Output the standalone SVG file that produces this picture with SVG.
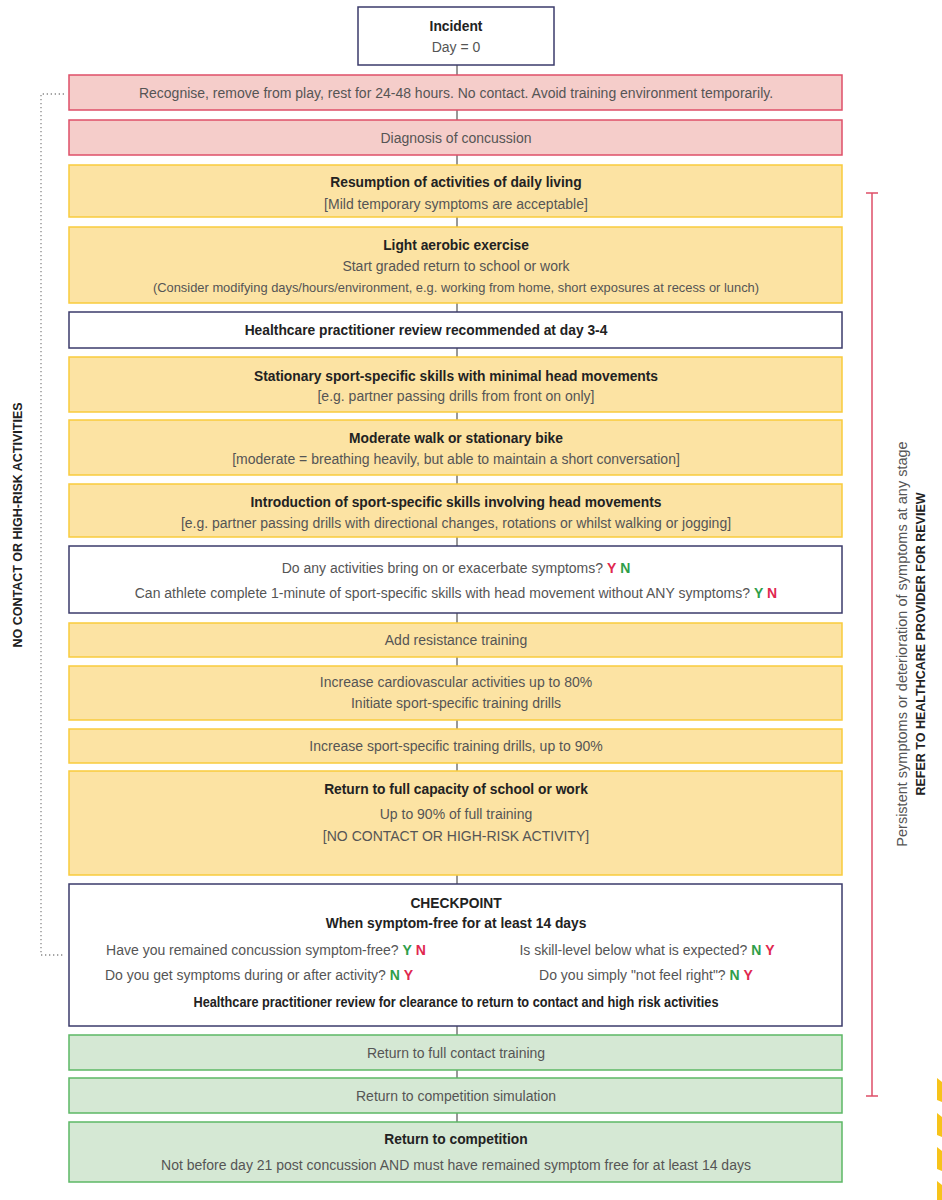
<svg xmlns="http://www.w3.org/2000/svg" width="942" height="1200" viewBox="0 0 942 1200">
<style>
text{font-family:"Liberation Sans",Arial,sans-serif;font-size:14px;fill:#555;text-anchor:middle}
.b{font-weight:bold;fill:#222;font-size:13.8px}
.sm{font-size:12.9px}
.red{fill:#f5cdca;stroke:#de4f68;stroke-width:1.5}
.yel{fill:#fce3a3;stroke:#f9cb3c;stroke-width:1.5}
.wht{fill:#fff;stroke:#3b3b6b;stroke-width:1.5}
.grn{fill:#d5e8d4;stroke:#5cb865;stroke-width:1.5}
.g{fill:#2f9e4a;font-weight:bold}
.r{fill:#e0284f;font-weight:bold}
.con line{stroke:#333;stroke-width:1}
</style>
<rect width="942" height="1200" fill="#fff"/>
<g class="con">
<line x1="457" y1="65" x2="457" y2="75"/>
<line x1="457" y1="110" x2="457" y2="120"/>
<line x1="457" y1="155" x2="457" y2="165"/>
<line x1="457" y1="217" x2="457" y2="227"/>
<line x1="457" y1="303" x2="457" y2="312"/>
<line x1="457" y1="348" x2="457" y2="357"/>
<line x1="457" y1="412" x2="457" y2="420"/>
<line x1="457" y1="475" x2="457" y2="484"/>
<line x1="457" y1="537" x2="457" y2="546"/>
<line x1="457" y1="613" x2="457" y2="623"/>
<line x1="457" y1="657" x2="457" y2="666"/>
<line x1="457" y1="720" x2="457" y2="729"/>
<line x1="457" y1="763" x2="457" y2="771"/>
<line x1="457" y1="875" x2="457" y2="884"/>
<line x1="457" y1="1026" x2="457" y2="1035"/>
<line x1="457" y1="1070" x2="457" y2="1078"/>
<line x1="457" y1="1113" x2="457" y2="1122"/>
</g>
<g id="bracket-left">
<polyline points="64,94 41,94 41,955 64,955" fill="none" stroke="#888" stroke-width="1.3" stroke-dasharray="1.3,2.7"/>
<text class="b" transform="translate(22,525) rotate(-90)" style="font-size:12.5px">NO CONTACT OR HIGH-RISK ACTIVITIES</text>
</g>
<g id="bracket-right">
<path d="M866,193H878M872,193V1096M866,1096H878" fill="none" stroke="#de4f68" stroke-width="1.5"/>
<text transform="translate(907,644) rotate(-90)" style="font-size:14.5px">Persistent symptoms or deterioration of  symptoms at any stage</text>
<text class="b" transform="translate(925,644) rotate(-90)" style="font-size:12.5px">REFER TO HEALTHCARE PROVIDER FOR REVIEW</text>
</g>
<g id="stripes" fill="#f7c31a">
<polygon points="937,1078 942,1082 942,1102 937,1100"/>
<polygon points="937,1113 942,1117 942,1137 937,1135"/>
<polygon points="937,1147 942,1151 942,1171 937,1169"/>
<polygon points="937,1181 942,1185 942,1200 937,1200"/>
</g>
<g id="n-incident"><rect class="wht" x="358" y="7" width="196" height="58"/><text class="b" x="456" y="31">Incident</text><text x="456" y="52">Day = 0</text></g>
<g id="n-recognise"><rect class="red" x="69" y="75" width="773" height="35"/><text x="456" y="98">Recognise, remove from play, rest for 24-48 hours. No contact. Avoid training environment temporarily.</text></g>
<g id="n-diagnosis"><rect class="red" x="69" y="120" width="773" height="35"/><text x="456" y="143">Diagnosis of concussion</text></g>
<g id="n-adl"><rect class="yel" x="69" y="165" width="773" height="52"/><text class="b" x="456" y="187">Resumption of activities of daily living</text><text x="456" y="209">[Mild temporary symptoms are acceptable]</text></g>
<g id="n-aerobic"><rect class="yel" x="69" y="227" width="773" height="76"/><text class="b" x="456" y="250">Light aerobic exercise</text><text x="456" y="271">Start graded return to school or work</text><text class="sm" x="456" y="292">(Consider modifying days/hours/environment, e.g. working from home, short exposures at recess or lunch)</text></g>
<g id="n-review"><rect class="wht" x="69" y="312" width="773" height="36"/><text class="b" x="426" y="335">Healthcare practitioner review recommended at day 3-4</text></g>
<g id="n-stationary"><rect class="yel" x="69" y="357" width="773" height="55"/><text class="b" x="456" y="381">Stationary sport-specific skills with minimal head movements</text><text x="456" y="401">[e.g. partner passing drills from front on only]</text></g>
<g id="n-walk"><rect class="yel" x="69" y="420" width="773" height="55"/><text class="b" x="456" y="443">Moderate walk or stationary bike</text><text x="456" y="464">[moderate = breathing heavily, but able to maintain a short conversation]</text></g>
<g id="n-intro"><rect class="yel" x="69" y="484" width="773" height="53"/><text class="b" x="456" y="507">Introduction of sport-specific skills involving head movements</text><text x="456" y="528">[e.g. partner passing drills with directional changes, rotations or whilst walking or jogging]</text></g>
<g id="n-questions"><rect class="wht" x="69" y="546" width="773" height="67"/><text x="456" y="573">Do any activities bring on or exacerbate symptoms? <tspan class="r">Y</tspan> <tspan class="g">N</tspan></text><text x="456" y="598">Can athlete complete 1-minute of sport-specific skills with head movement without ANY symptoms? <tspan class="g">Y</tspan> <tspan class="r">N</tspan></text></g>
<g id="n-resistance"><rect class="yel" x="69" y="623" width="773" height="34"/><text x="456" y="645">Add resistance training</text></g>
<g id="n-cardio"><rect class="yel" x="69" y="666" width="773" height="54"/><text x="456" y="687">Increase cardiovascular activities up to 80%</text><text x="456" y="708">Initiate sport-specific training drills</text></g>
<g id="n-drills"><rect class="yel" x="69" y="729" width="773" height="34"/><text x="456" y="751">Increase sport-specific training drills, up to 90%</text></g>
<g id="n-fullcap"><rect class="yel" x="69" y="771" width="773" height="104"/><text class="b" x="456" y="794">Return to full capacity of school or work</text><text x="456" y="819">Up to 90% of full training</text><text x="456" y="841">[NO CONTACT OR HIGH-RISK ACTIVITY]</text></g>
<g id="n-checkpoint"><rect class="wht" x="69" y="884" width="773" height="142"/>
<text class="b" x="456" y="908">CHECKPOINT</text>
<text class="b" x="456" y="928">When symptom-free for at least 14 days</text>
<text x="266" y="955">Have you remained concussion symptom-free? <tspan class="g">Y</tspan> <tspan class="r">N</tspan></text>
<text x="647" y="955">Is skill-level below what is expected? <tspan class="g">N</tspan> <tspan class="r">Y</tspan></text>
<text x="259" y="980">Do you get symptoms during or after activity? <tspan class="g">N</tspan> <tspan class="r">Y</tspan></text>
<text x="646" y="980">Do you simply "not feel right"? <tspan class="g">N</tspan> <tspan class="r">Y</tspan></text>
<text class="b" x="456" y="1007" textLength="525" lengthAdjust="spacingAndGlyphs">Healthcare practitioner review for clearance to return to contact and high risk activities</text>
</g>
<g id="n-contact"><rect class="grn" x="69" y="1035" width="773" height="35"/><text x="456" y="1058">Return to full contact training</text></g>
<g id="n-simulation"><rect class="grn" x="69" y="1078" width="773" height="35"/><text x="456" y="1101">Return to competition simulation</text></g>
<g id="n-competition"><rect class="grn" x="69" y="1122" width="773" height="60"/><text class="b" x="456" y="1144">Return to competition</text><text x="456" y="1170">Not before day 21 post concussion AND must have remained symptom free for at least 14 days</text></g>
</svg>
